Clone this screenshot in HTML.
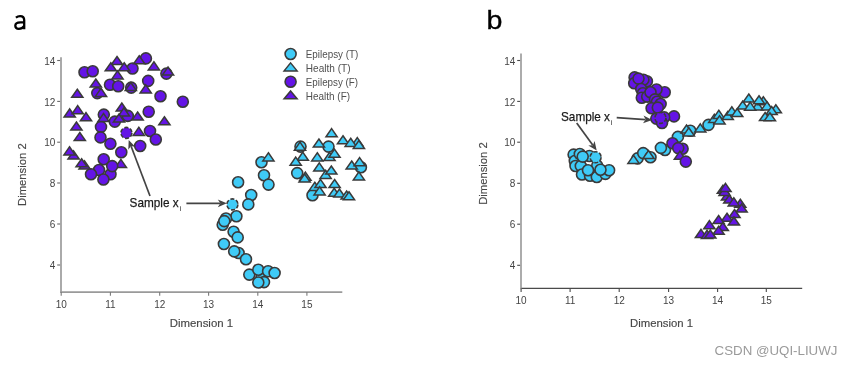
<!DOCTYPE html>
<html><head><meta charset="utf-8"><style>
html,body{margin:0;padding:0;background:#fff;}
svg{display:block;will-change:transform;}
text{font-family:"Liberation Sans",sans-serif;}
.lab{font-size:26px;fill:#000;stroke:#000;stroke-width:0.35px;}
.tk{font-size:10px;fill:#444;}
.dim{font-size:11.5px;fill:#474747;stroke:#474747;stroke-width:0.15px;}
.leg{font-size:10.4px;fill:#505050;}
.smp{font-size:13.5px;fill:#1a1a1a;stroke:#1a1a1a;stroke-width:0.25px;}
.sub{font-size:7px;fill:#222;}
.wm{font-size:13.3px;fill:#9a9a9a;}
</style></head><body>
<svg width="852" height="367" viewBox="0 0 852 367">
<rect width="852" height="367" fill="#fff"/>
<g fill="none" stroke="#000" stroke-width="2.3"><path d="M15.9 17.6C17.2 16.6 18.6 16.1 20.1 16.1C22.9 16.1 24.2 17.5 24.2 20.3V29.2"/><path d="M24.2 22.4H20.4C16.9 22.4 15.3 23.8 15.3 25.8C15.3 27.7 16.7 28.8 18.8 28.8C21.0 28.8 23.0 27.8 24.2 26.0"/></g>
<text transform="translate(486.4 29.2) scale(1.1 1)" class="lab">b</text>
<line x1="61.0" y1="57.2" x2="61.0" y2="292.8" stroke="#a6a6a6" stroke-width="1.9"/><line x1="57.2" y1="60.5" x2="60.1" y2="60.5" stroke="#6a6a6a" stroke-width="1.1"/><text x="55.3" y="64.6" text-anchor="end" class="tk">14</text><line x1="57.2" y1="101.4" x2="60.1" y2="101.4" stroke="#6a6a6a" stroke-width="1.1"/><text x="55.3" y="105.5" text-anchor="end" class="tk">12</text><line x1="57.2" y1="142.2" x2="60.1" y2="142.2" stroke="#6a6a6a" stroke-width="1.1"/><text x="55.3" y="146.29999999999998" text-anchor="end" class="tk">10</text><line x1="57.2" y1="183.0" x2="60.1" y2="183.0" stroke="#6a6a6a" stroke-width="1.1"/><text x="55.3" y="187.1" text-anchor="end" class="tk">8</text><line x1="57.2" y1="224.0" x2="60.1" y2="224.0" stroke="#6a6a6a" stroke-width="1.1"/><text x="55.3" y="228.1" text-anchor="end" class="tk">6</text><line x1="57.2" y1="265" x2="60.1" y2="265" stroke="#6a6a6a" stroke-width="1.1"/><text x="55.3" y="269.1" text-anchor="end" class="tk">4</text>
<line x1="60.2" y1="292.1" x2="342.3" y2="292.1" stroke="#9a9a9a" stroke-width="1.7"/><line x1="61.2" y1="292.1" x2="61.2" y2="295.70000000000005" stroke="#7a7a7a" stroke-width="1.1"/><text x="61.2" y="307.8" text-anchor="middle" class="tk">10</text><line x1="110.4" y1="292.1" x2="110.4" y2="295.70000000000005" stroke="#7a7a7a" stroke-width="1.1"/><text x="110.4" y="307.8" text-anchor="middle" class="tk">11</text><line x1="159.7" y1="292.1" x2="159.7" y2="295.70000000000005" stroke="#7a7a7a" stroke-width="1.1"/><text x="159.7" y="307.8" text-anchor="middle" class="tk">12</text><line x1="208.6" y1="292.1" x2="208.6" y2="295.70000000000005" stroke="#7a7a7a" stroke-width="1.1"/><text x="208.6" y="307.8" text-anchor="middle" class="tk">13</text><line x1="257.8" y1="292.1" x2="257.8" y2="295.70000000000005" stroke="#7a7a7a" stroke-width="1.1"/><text x="257.8" y="307.8" text-anchor="middle" class="tk">14</text><line x1="306.9" y1="292.1" x2="306.9" y2="295.70000000000005" stroke="#7a7a7a" stroke-width="1.1"/><text x="306.9" y="307.8" text-anchor="middle" class="tk">15</text>
<line x1="521.0" y1="53.5" x2="521.0" y2="289.2" stroke="#a8a8a8" stroke-width="1.9"/><line x1="517.2" y1="60.5" x2="520.1" y2="60.5" stroke="#4a4a4a" stroke-width="1.1"/><text x="515.4" y="64.6" text-anchor="end" class="tk">14</text><line x1="517.2" y1="101.4" x2="520.1" y2="101.4" stroke="#4a4a4a" stroke-width="1.1"/><text x="515.4" y="105.5" text-anchor="end" class="tk">12</text><line x1="517.2" y1="142.2" x2="520.1" y2="142.2" stroke="#4a4a4a" stroke-width="1.1"/><text x="515.4" y="146.29999999999998" text-anchor="end" class="tk">10</text><line x1="517.2" y1="183.3" x2="520.1" y2="183.3" stroke="#4a4a4a" stroke-width="1.1"/><text x="515.4" y="187.4" text-anchor="end" class="tk">8</text><line x1="517.2" y1="224.2" x2="520.1" y2="224.2" stroke="#4a4a4a" stroke-width="1.1"/><text x="515.4" y="228.29999999999998" text-anchor="end" class="tk">6</text><line x1="517.2" y1="265.3" x2="520.1" y2="265.3" stroke="#4a4a4a" stroke-width="1.1"/><text x="515.4" y="269.40000000000003" text-anchor="end" class="tk">4</text>
<line x1="521.5" y1="288.4" x2="802.2" y2="288.4" stroke="#4a4a4a" stroke-width="1.3"/><line x1="521.1" y1="288.4" x2="521.1" y2="292.0" stroke="#4a4a4a" stroke-width="1.1"/><text x="521.1" y="304.3" text-anchor="middle" class="tk">10</text><line x1="570.1" y1="288.4" x2="570.1" y2="292.0" stroke="#4a4a4a" stroke-width="1.1"/><text x="570.1" y="304.3" text-anchor="middle" class="tk">11</text><line x1="619.2" y1="288.4" x2="619.2" y2="292.0" stroke="#4a4a4a" stroke-width="1.1"/><text x="619.2" y="304.3" text-anchor="middle" class="tk">12</text><line x1="668.6" y1="288.4" x2="668.6" y2="292.0" stroke="#4a4a4a" stroke-width="1.1"/><text x="668.6" y="304.3" text-anchor="middle" class="tk">13</text><line x1="717.6" y1="288.4" x2="717.6" y2="292.0" stroke="#4a4a4a" stroke-width="1.1"/><text x="717.6" y="304.3" text-anchor="middle" class="tk">14</text><line x1="766.3" y1="288.4" x2="766.3" y2="292.0" stroke="#4a4a4a" stroke-width="1.1"/><text x="766.3" y="304.3" text-anchor="middle" class="tk">15</text>
<text x="169.7" y="327.1" class="dim" textLength="63.4" lengthAdjust="spacingAndGlyphs">Dimension 1</text>
<text x="630" y="326.8" class="dim" textLength="63" lengthAdjust="spacingAndGlyphs">Dimension 1</text>
<text transform="translate(26.4 206) rotate(-90)" class="dim" textLength="62.7" lengthAdjust="spacingAndGlyphs">Dimension 2</text>
<text transform="translate(486.7 204.8) rotate(-90)" class="dim" textLength="62.5" lengthAdjust="spacingAndGlyphs">Dimension 2</text>
<circle cx="290.6" cy="54.0" r="5.5" fill="#3fcbf7" stroke="#3a3a3a" stroke-width="1.6"/>
<path d="M290.6 62.9L297.1 70.9L284.1 70.9Z" fill="#3fcbf7" stroke="#3a3a3a" stroke-width="1.5"/>
<circle cx="290.6" cy="81.8" r="5.5" fill="#6414e6" stroke="#3a3a3a" stroke-width="1.6"/>
<path d="M290.6 90.9L297.1 98.7L284.1 98.7Z" fill="#6414e6" stroke="#3a3a3a" stroke-width="1.5"/>
<text x="305.8" y="58.1" class="leg" textLength="52.5" lengthAdjust="spacingAndGlyphs">Epilepsy (T)</text>
<text x="305.8" y="71.9" class="leg" textLength="44.8" lengthAdjust="spacingAndGlyphs">Health (T)</text>
<text x="305.8" y="85.7" class="leg" textLength="52.3" lengthAdjust="spacingAndGlyphs">Epilepsy (F)</text>
<text x="305.8" y="99.5" class="leg" textLength="44.3" lengthAdjust="spacingAndGlyphs">Health (F)</text>
<circle cx="238.1" cy="182.3" r="5.5" fill="#3fcbf7" stroke="#3a3a3a" stroke-width="1.6"/>
<circle cx="261.5" cy="162.2" r="5.5" fill="#3fcbf7" stroke="#3a3a3a" stroke-width="1.6"/>
<circle cx="264" cy="175.2" r="5.5" fill="#3fcbf7" stroke="#3a3a3a" stroke-width="1.6"/>
<circle cx="268.5" cy="184.6" r="5.5" fill="#3fcbf7" stroke="#3a3a3a" stroke-width="1.6"/>
<circle cx="251.2" cy="195" r="5.5" fill="#3fcbf7" stroke="#3a3a3a" stroke-width="1.6"/>
<circle cx="248.3" cy="204.4" r="5.5" fill="#3fcbf7" stroke="#3a3a3a" stroke-width="1.6"/>
<circle cx="236.4" cy="216.2" r="5.5" fill="#3fcbf7" stroke="#3a3a3a" stroke-width="1.6"/>
<circle cx="226" cy="218.5" r="5.5" fill="#3fcbf7" stroke="#3a3a3a" stroke-width="1.6"/>
<circle cx="222.7" cy="224.7" r="5.5" fill="#3fcbf7" stroke="#3a3a3a" stroke-width="1.6"/>
<circle cx="224.3" cy="221.1" r="5.5" fill="#3fcbf7" stroke="#3a3a3a" stroke-width="1.6"/>
<circle cx="233.6" cy="231.7" r="5.5" fill="#3fcbf7" stroke="#3a3a3a" stroke-width="1.6"/>
<circle cx="237.7" cy="237.4" r="5.5" fill="#3fcbf7" stroke="#3a3a3a" stroke-width="1.6"/>
<circle cx="223.9" cy="244" r="5.5" fill="#3fcbf7" stroke="#3a3a3a" stroke-width="1.6"/>
<circle cx="238.6" cy="253" r="5.5" fill="#3fcbf7" stroke="#3a3a3a" stroke-width="1.6"/>
<circle cx="234.2" cy="251.4" r="5.5" fill="#3fcbf7" stroke="#3a3a3a" stroke-width="1.6"/>
<circle cx="246" cy="259.2" r="5.5" fill="#3fcbf7" stroke="#3a3a3a" stroke-width="1.6"/>
<circle cx="261.6" cy="276.7" r="5.5" fill="#3fcbf7" stroke="#3a3a3a" stroke-width="1.6"/>
<circle cx="264" cy="282.1" r="5.5" fill="#3fcbf7" stroke="#3a3a3a" stroke-width="1.6"/>
<circle cx="249.3" cy="274.6" r="5.5" fill="#3fcbf7" stroke="#3a3a3a" stroke-width="1.6"/>
<circle cx="258.3" cy="269.7" r="5.5" fill="#3fcbf7" stroke="#3a3a3a" stroke-width="1.6"/>
<circle cx="268.1" cy="271.3" r="5.5" fill="#3fcbf7" stroke="#3a3a3a" stroke-width="1.6"/>
<circle cx="274.6" cy="273" r="5.5" fill="#3fcbf7" stroke="#3a3a3a" stroke-width="1.6"/>
<circle cx="258.3" cy="282.5" r="5.5" fill="#3fcbf7" stroke="#3a3a3a" stroke-width="1.6"/>
<circle cx="300.5" cy="146.6" r="5.5" fill="#3fcbf7" stroke="#3a3a3a" stroke-width="1.6"/>
<circle cx="328.5" cy="146.6" r="5.5" fill="#3fcbf7" stroke="#3a3a3a" stroke-width="1.6"/>
<circle cx="297.2" cy="173.1" r="5.5" fill="#3fcbf7" stroke="#3a3a3a" stroke-width="1.6"/>
<circle cx="312.5" cy="195.2" r="5.5" fill="#3fcbf7" stroke="#3a3a3a" stroke-width="1.6"/>
<circle cx="360.9" cy="167.3" r="5.5" fill="#3fcbf7" stroke="#3a3a3a" stroke-width="1.6"/>
<path d="M268.4 152.8L274.0 160.9L262.8 160.9Z" fill="#3fcbf7" stroke="#3a3a3a" stroke-width="1.5" stroke-linejoin="miter"/>
<path d="M300.0 142.1L305.6 150.2L294.4 150.2Z" fill="#3fcbf7" stroke="#3a3a3a" stroke-width="1.5" stroke-linejoin="miter"/>
<path d="M331.6 128.6L337.2 136.7L326.0 136.7Z" fill="#3fcbf7" stroke="#3a3a3a" stroke-width="1.5" stroke-linejoin="miter"/>
<path d="M318.9 139.0L324.5 147.1L313.3 147.1Z" fill="#3fcbf7" stroke="#3a3a3a" stroke-width="1.5" stroke-linejoin="miter"/>
<path d="M343.0 135.7L348.6 143.8L337.4 143.8Z" fill="#3fcbf7" stroke="#3a3a3a" stroke-width="1.5" stroke-linejoin="miter"/>
<path d="M357.3 137.6L362.9 145.7L351.7 145.7Z" fill="#3fcbf7" stroke="#3a3a3a" stroke-width="1.5" stroke-linejoin="miter"/>
<path d="M350.7 138.3L356.3 146.4L345.1 146.4Z" fill="#3fcbf7" stroke="#3a3a3a" stroke-width="1.5" stroke-linejoin="miter"/>
<path d="M358.9 140.5L364.5 148.6L353.3 148.6Z" fill="#3fcbf7" stroke="#3a3a3a" stroke-width="1.5" stroke-linejoin="miter"/>
<path d="M329.5 152.4L335.1 160.5L323.9 160.5Z" fill="#3fcbf7" stroke="#3a3a3a" stroke-width="1.5" stroke-linejoin="miter"/>
<path d="M334.5 149.1L340.1 157.2L328.9 157.2Z" fill="#3fcbf7" stroke="#3a3a3a" stroke-width="1.5" stroke-linejoin="miter"/>
<path d="M302.8 152.1L308.4 160.2L297.2 160.2Z" fill="#3fcbf7" stroke="#3a3a3a" stroke-width="1.5" stroke-linejoin="miter"/>
<path d="M295.7 157.1L301.3 165.2L290.1 165.2Z" fill="#3fcbf7" stroke="#3a3a3a" stroke-width="1.5" stroke-linejoin="miter"/>
<path d="M317.3 152.8L322.9 160.9L311.7 160.9Z" fill="#3fcbf7" stroke="#3a3a3a" stroke-width="1.5" stroke-linejoin="miter"/>
<path d="M319.3 162.9L324.9 171.0L313.7 171.0Z" fill="#3fcbf7" stroke="#3a3a3a" stroke-width="1.5" stroke-linejoin="miter"/>
<path d="M325.6 170.3L331.2 178.4L320.0 178.4Z" fill="#3fcbf7" stroke="#3a3a3a" stroke-width="1.5" stroke-linejoin="miter"/>
<path d="M331.3 166.0L336.9 174.1L325.7 174.1Z" fill="#3fcbf7" stroke="#3a3a3a" stroke-width="1.5" stroke-linejoin="miter"/>
<path d="M305.4 172.1L311.0 180.2L299.8 180.2Z" fill="#3fcbf7" stroke="#3a3a3a" stroke-width="1.5" stroke-linejoin="miter"/>
<path d="M304.6 174.0L310.2 182.1L299.0 182.1Z" fill="#3fcbf7" stroke="#3a3a3a" stroke-width="1.5" stroke-linejoin="miter"/>
<path d="M314.8 182.3L320.4 190.4L309.2 190.4Z" fill="#3fcbf7" stroke="#3a3a3a" stroke-width="1.5" stroke-linejoin="miter"/>
<path d="M320.5 179.4L326.1 187.5L314.9 187.5Z" fill="#3fcbf7" stroke="#3a3a3a" stroke-width="1.5" stroke-linejoin="miter"/>
<path d="M319.6 186.8L325.2 194.9L314.0 194.9Z" fill="#3fcbf7" stroke="#3a3a3a" stroke-width="1.5" stroke-linejoin="miter"/>
<path d="M334.6 179.5L340.2 187.6L329.0 187.6Z" fill="#3fcbf7" stroke="#3a3a3a" stroke-width="1.5" stroke-linejoin="miter"/>
<path d="M334.2 188.2L339.8 196.3L328.6 196.3Z" fill="#3fcbf7" stroke="#3a3a3a" stroke-width="1.5" stroke-linejoin="miter"/>
<path d="M339.4 189.0L345.0 197.1L333.8 197.1Z" fill="#3fcbf7" stroke="#3a3a3a" stroke-width="1.5" stroke-linejoin="miter"/>
<path d="M346.6 191.0L352.2 199.1L341.0 199.1Z" fill="#3fcbf7" stroke="#3a3a3a" stroke-width="1.5" stroke-linejoin="miter"/>
<path d="M349.0 191.7L354.6 199.8L343.4 199.8Z" fill="#3fcbf7" stroke="#3a3a3a" stroke-width="1.5" stroke-linejoin="miter"/>
<path d="M351.7 161.0L357.3 169.1L346.1 169.1Z" fill="#3fcbf7" stroke="#3a3a3a" stroke-width="1.5" stroke-linejoin="miter"/>
<path d="M359.6 157.6L365.2 165.7L354.0 165.7Z" fill="#3fcbf7" stroke="#3a3a3a" stroke-width="1.5" stroke-linejoin="miter"/>
<path d="M358.9 171.9L364.5 180.0L353.3 180.0Z" fill="#3fcbf7" stroke="#3a3a3a" stroke-width="1.5" stroke-linejoin="miter"/>
<circle cx="232.4" cy="204.4" r="5.5" fill="#3fcbf7" stroke="#3a3a3a" stroke-width="1.6" stroke-dasharray="4 1.8"/>
<circle cx="84.5" cy="72.3" r="5.5" fill="#6414e6" stroke="#3a3a3a" stroke-width="1.6"/>
<circle cx="92.7" cy="71.2" r="5.5" fill="#6414e6" stroke="#3a3a3a" stroke-width="1.6"/>
<circle cx="97.3" cy="93.1" r="5.5" fill="#6414e6" stroke="#3a3a3a" stroke-width="1.6"/>
<circle cx="110" cy="84.7" r="5.5" fill="#6414e6" stroke="#3a3a3a" stroke-width="1.6"/>
<circle cx="118.2" cy="86.2" r="5.5" fill="#6414e6" stroke="#3a3a3a" stroke-width="1.6"/>
<circle cx="131.2" cy="87.6" r="5.5" fill="#6414e6" stroke="#3a3a3a" stroke-width="1.6"/>
<circle cx="132.5" cy="68.5" r="5.5" fill="#6414e6" stroke="#3a3a3a" stroke-width="1.6"/>
<circle cx="145.9" cy="58.4" r="5.5" fill="#6414e6" stroke="#3a3a3a" stroke-width="1.6"/>
<circle cx="148.2" cy="80.9" r="5.5" fill="#6414e6" stroke="#3a3a3a" stroke-width="1.6"/>
<circle cx="166.4" cy="73.6" r="5.5" fill="#6414e6" stroke="#3a3a3a" stroke-width="1.6"/>
<circle cx="160.5" cy="96.3" r="5.5" fill="#6414e6" stroke="#3a3a3a" stroke-width="1.6"/>
<circle cx="182.8" cy="101.7" r="5.5" fill="#6414e6" stroke="#3a3a3a" stroke-width="1.6"/>
<circle cx="148.7" cy="111.7" r="5.5" fill="#6414e6" stroke="#3a3a3a" stroke-width="1.6"/>
<circle cx="103.8" cy="114.6" r="5.5" fill="#6414e6" stroke="#3a3a3a" stroke-width="1.6"/>
<circle cx="101" cy="126.9" r="5.5" fill="#6414e6" stroke="#3a3a3a" stroke-width="1.6"/>
<circle cx="100.5" cy="137.4" r="5.5" fill="#6414e6" stroke="#3a3a3a" stroke-width="1.6"/>
<circle cx="110.4" cy="143.8" r="5.5" fill="#6414e6" stroke="#3a3a3a" stroke-width="1.6"/>
<circle cx="121.3" cy="152.2" r="5.5" fill="#6414e6" stroke="#3a3a3a" stroke-width="1.6"/>
<circle cx="114.8" cy="121.6" r="5.5" fill="#6414e6" stroke="#3a3a3a" stroke-width="1.6"/>
<circle cx="127.8" cy="115.9" r="5.5" fill="#6414e6" stroke="#3a3a3a" stroke-width="1.6"/>
<circle cx="150" cy="131" r="5.5" fill="#6414e6" stroke="#3a3a3a" stroke-width="1.6"/>
<circle cx="155.8" cy="139.5" r="5.5" fill="#6414e6" stroke="#3a3a3a" stroke-width="1.6"/>
<circle cx="140.2" cy="146" r="5.5" fill="#6414e6" stroke="#3a3a3a" stroke-width="1.6"/>
<circle cx="103.7" cy="159.2" r="5.5" fill="#6414e6" stroke="#3a3a3a" stroke-width="1.6"/>
<circle cx="110.5" cy="174.2" r="5.5" fill="#6414e6" stroke="#3a3a3a" stroke-width="1.6"/>
<circle cx="99" cy="170" r="5.5" fill="#6414e6" stroke="#3a3a3a" stroke-width="1.6"/>
<circle cx="91" cy="174.2" r="5.5" fill="#6414e6" stroke="#3a3a3a" stroke-width="1.6"/>
<circle cx="103.4" cy="179.5" r="5.5" fill="#6414e6" stroke="#3a3a3a" stroke-width="1.6"/>
<path d="M117.0 56.5L122.6 64.6L111.4 64.6Z" fill="#6414e6" stroke="#3a3a3a" stroke-width="1.5" stroke-linejoin="miter"/>
<path d="M110.8 62.7L116.4 70.8L105.2 70.8Z" fill="#6414e6" stroke="#3a3a3a" stroke-width="1.5" stroke-linejoin="miter"/>
<path d="M124.2 62.7L129.8 70.8L118.6 70.8Z" fill="#6414e6" stroke="#3a3a3a" stroke-width="1.5" stroke-linejoin="miter"/>
<path d="M117.5 70.8L123.1 78.9L111.9 78.9Z" fill="#6414e6" stroke="#3a3a3a" stroke-width="1.5" stroke-linejoin="miter"/>
<path d="M139.2 55.7L144.8 63.8L133.6 63.8Z" fill="#6414e6" stroke="#3a3a3a" stroke-width="1.5" stroke-linejoin="miter"/>
<path d="M153.9 61.8L159.5 69.9L148.3 69.9Z" fill="#6414e6" stroke="#3a3a3a" stroke-width="1.5" stroke-linejoin="miter"/>
<path d="M95.8 79.0L101.4 87.1L90.2 87.1Z" fill="#6414e6" stroke="#3a3a3a" stroke-width="1.5" stroke-linejoin="miter"/>
<path d="M101.0 88.3L106.6 96.4L95.4 96.4Z" fill="#6414e6" stroke="#3a3a3a" stroke-width="1.5" stroke-linejoin="miter"/>
<path d="M77.3 89.2L82.9 97.3L71.7 97.3Z" fill="#6414e6" stroke="#3a3a3a" stroke-width="1.5" stroke-linejoin="miter"/>
<path d="M130.8 82.5L136.4 90.6L125.2 90.6Z" fill="#6414e6" stroke="#3a3a3a" stroke-width="1.5" stroke-linejoin="miter"/>
<path d="M168.0 67.0L173.6 75.1L162.4 75.1Z" fill="#6414e6" stroke="#3a3a3a" stroke-width="1.5" stroke-linejoin="miter"/>
<path d="M145.7 84.8L151.3 92.9L140.1 92.9Z" fill="#6414e6" stroke="#3a3a3a" stroke-width="1.5" stroke-linejoin="miter"/>
<path d="M69.7 108.9L75.3 117.0L64.1 117.0Z" fill="#6414e6" stroke="#3a3a3a" stroke-width="1.5" stroke-linejoin="miter"/>
<path d="M77.7 105.6L83.3 113.7L72.1 113.7Z" fill="#6414e6" stroke="#3a3a3a" stroke-width="1.5" stroke-linejoin="miter"/>
<path d="M86.0 112.6L91.6 120.7L80.4 120.7Z" fill="#6414e6" stroke="#3a3a3a" stroke-width="1.5" stroke-linejoin="miter"/>
<path d="M76.4 122.0L82.0 130.1L70.8 130.1Z" fill="#6414e6" stroke="#3a3a3a" stroke-width="1.5" stroke-linejoin="miter"/>
<path d="M79.8 132.5L85.4 140.6L74.2 140.6Z" fill="#6414e6" stroke="#3a3a3a" stroke-width="1.5" stroke-linejoin="miter"/>
<path d="M103.5 113.5L109.1 121.6L97.9 121.6Z" fill="#6414e6" stroke="#3a3a3a" stroke-width="1.5" stroke-linejoin="miter"/>
<path d="M121.8 103.0L127.4 111.1L116.2 111.1Z" fill="#6414e6" stroke="#3a3a3a" stroke-width="1.5" stroke-linejoin="miter"/>
<path d="M123.9 107.9L129.5 116.0L118.3 116.0Z" fill="#6414e6" stroke="#3a3a3a" stroke-width="1.5" stroke-linejoin="miter"/>
<path d="M119.0 114.0L124.6 122.1L113.4 122.1Z" fill="#6414e6" stroke="#3a3a3a" stroke-width="1.5" stroke-linejoin="miter"/>
<path d="M137.6 112.0L143.2 120.1L132.0 120.1Z" fill="#6414e6" stroke="#3a3a3a" stroke-width="1.5" stroke-linejoin="miter"/>
<path d="M164.4 116.7L170.0 124.8L158.8 124.8Z" fill="#6414e6" stroke="#3a3a3a" stroke-width="1.5" stroke-linejoin="miter"/>
<path d="M138.8 127.3L144.4 135.4L133.2 135.4Z" fill="#6414e6" stroke="#3a3a3a" stroke-width="1.5" stroke-linejoin="miter"/>
<path d="M73.6 150.9L79.2 159.0L68.0 159.0Z" fill="#6414e6" stroke="#3a3a3a" stroke-width="1.5" stroke-linejoin="miter"/>
<path d="M69.5 146.8L75.1 154.9L63.9 154.9Z" fill="#6414e6" stroke="#3a3a3a" stroke-width="1.5" stroke-linejoin="miter"/>
<path d="M84.6 160.9L90.2 169.0L79.0 169.0Z" fill="#6414e6" stroke="#3a3a3a" stroke-width="1.5" stroke-linejoin="miter"/>
<path d="M81.6 158.7L87.2 166.8L76.0 166.8Z" fill="#6414e6" stroke="#3a3a3a" stroke-width="1.5" stroke-linejoin="miter"/>
<path d="M120.9 159.4L126.5 167.5L115.3 167.5Z" fill="#6414e6" stroke="#3a3a3a" stroke-width="1.5" stroke-linejoin="miter"/>
<circle cx="112.2" cy="166.1" r="5.5" fill="#6414e6" stroke="#3a3a3a" stroke-width="1.6"/>
<circle cx="126.4" cy="132.9" r="5.5" fill="#6414e6" stroke="#3a3a3a" stroke-width="1.6" stroke-dasharray="4 1.8"/>
<circle cx="573.6" cy="154.6" r="5.5" fill="#3fcbf7" stroke="#3a3a3a" stroke-width="1.6"/>
<circle cx="574.8" cy="161" r="5.5" fill="#3fcbf7" stroke="#3a3a3a" stroke-width="1.6"/>
<circle cx="575.5" cy="166" r="5.5" fill="#3fcbf7" stroke="#3a3a3a" stroke-width="1.6"/>
<circle cx="579.8" cy="154" r="5.5" fill="#3fcbf7" stroke="#3a3a3a" stroke-width="1.6"/>
<circle cx="589.4" cy="156" r="5.5" fill="#3fcbf7" stroke="#3a3a3a" stroke-width="1.6"/>
<circle cx="580.8" cy="166" r="5.5" fill="#3fcbf7" stroke="#3a3a3a" stroke-width="1.6"/>
<circle cx="582" cy="174.5" r="5.5" fill="#3fcbf7" stroke="#3a3a3a" stroke-width="1.6"/>
<circle cx="590" cy="175.8" r="5.5" fill="#3fcbf7" stroke="#3a3a3a" stroke-width="1.6"/>
<circle cx="596.8" cy="177" r="5.5" fill="#3fcbf7" stroke="#3a3a3a" stroke-width="1.6"/>
<circle cx="597.2" cy="165.8" r="5.5" fill="#3fcbf7" stroke="#3a3a3a" stroke-width="1.6"/>
<circle cx="582.7" cy="156.6" r="5.5" fill="#3fcbf7" stroke="#3a3a3a" stroke-width="1.6"/>
<circle cx="588" cy="170.2" r="5.5" fill="#3fcbf7" stroke="#3a3a3a" stroke-width="1.6"/>
<circle cx="605.4" cy="173.9" r="5.5" fill="#3fcbf7" stroke="#3a3a3a" stroke-width="1.6"/>
<circle cx="609.1" cy="170.3" r="5.5" fill="#3fcbf7" stroke="#3a3a3a" stroke-width="1.6"/>
<circle cx="600.5" cy="169.8" r="5.5" fill="#3fcbf7" stroke="#3a3a3a" stroke-width="1.6"/>
<circle cx="637.5" cy="158.4" r="5.5" fill="#3fcbf7" stroke="#3a3a3a" stroke-width="1.6"/>
<circle cx="643.2" cy="153.1" r="5.5" fill="#3fcbf7" stroke="#3a3a3a" stroke-width="1.6"/>
<path d="M633.5 155.3L639.1 163.4L627.9 163.4Z" fill="#3fcbf7" stroke="#3a3a3a" stroke-width="1.5" stroke-linejoin="miter"/>
<circle cx="650.5" cy="157.2" r="5.5" fill="#3fcbf7" stroke="#3a3a3a" stroke-width="1.6"/>
<path d="M648.5 150.5L654.1 158.6L642.9 158.6Z" fill="#3fcbf7" stroke="#3a3a3a" stroke-width="1.5" stroke-linejoin="miter"/>
<circle cx="665" cy="150" r="5.5" fill="#3fcbf7" stroke="#3a3a3a" stroke-width="1.6"/>
<circle cx="660.9" cy="147.9" r="5.5" fill="#3fcbf7" stroke="#3a3a3a" stroke-width="1.6"/>
<circle cx="677.9" cy="136.9" r="5.5" fill="#3fcbf7" stroke="#3a3a3a" stroke-width="1.6"/>
<circle cx="690.3" cy="130.7" r="5.5" fill="#3fcbf7" stroke="#3a3a3a" stroke-width="1.6"/>
<path d="M686.5 125.0L692.1 133.1L680.9 133.1Z" fill="#3fcbf7" stroke="#3a3a3a" stroke-width="1.5" stroke-linejoin="miter"/>
<path d="M688.8 127.8L694.4 135.9L683.2 135.9Z" fill="#3fcbf7" stroke="#3a3a3a" stroke-width="1.5" stroke-linejoin="miter"/>
<path d="M700.3 123.9L705.9 132.0L694.7 132.0Z" fill="#3fcbf7" stroke="#3a3a3a" stroke-width="1.5" stroke-linejoin="miter"/>
<circle cx="708.5" cy="124.9" r="5.5" fill="#3fcbf7" stroke="#3a3a3a" stroke-width="1.6"/>
<path d="M714.3 114.3L719.9 122.4L708.7 122.4Z" fill="#3fcbf7" stroke="#3a3a3a" stroke-width="1.5" stroke-linejoin="miter"/>
<path d="M718.8 110.3L724.4 118.4L713.2 118.4Z" fill="#3fcbf7" stroke="#3a3a3a" stroke-width="1.5" stroke-linejoin="miter"/>
<path d="M719.5 115.8L725.1 123.9L713.9 123.9Z" fill="#3fcbf7" stroke="#3a3a3a" stroke-width="1.5" stroke-linejoin="miter"/>
<path d="M727.7 111.5L733.3 119.6L722.1 119.6Z" fill="#3fcbf7" stroke="#3a3a3a" stroke-width="1.5" stroke-linejoin="miter"/>
<path d="M731.8 106.8L737.4 114.9L726.2 114.9Z" fill="#3fcbf7" stroke="#3a3a3a" stroke-width="1.5" stroke-linejoin="miter"/>
<path d="M737.2 108.5L742.8 116.6L731.6 116.6Z" fill="#3fcbf7" stroke="#3a3a3a" stroke-width="1.5" stroke-linejoin="miter"/>
<path d="M757.6 102.0L763.2 110.1L752.0 110.1Z" fill="#3fcbf7" stroke="#3a3a3a" stroke-width="1.5" stroke-linejoin="miter"/>
<path d="M742.7 101.0L748.3 109.1L737.1 109.1Z" fill="#3fcbf7" stroke="#3a3a3a" stroke-width="1.5" stroke-linejoin="miter"/>
<path d="M748.8 94.0L754.4 102.1L743.2 102.1Z" fill="#3fcbf7" stroke="#3a3a3a" stroke-width="1.5" stroke-linejoin="miter"/>
<path d="M750.2 102.1L755.8 110.2L744.6 110.2Z" fill="#3fcbf7" stroke="#3a3a3a" stroke-width="1.5" stroke-linejoin="miter"/>
<path d="M763.3 96.7L768.9 104.8L757.7 104.8Z" fill="#3fcbf7" stroke="#3a3a3a" stroke-width="1.5" stroke-linejoin="miter"/>
<path d="M759.0 95.7L764.6 103.8L753.4 103.8Z" fill="#3fcbf7" stroke="#3a3a3a" stroke-width="1.5" stroke-linejoin="miter"/>
<path d="M767.0 101.8L772.6 109.9L761.4 109.9Z" fill="#3fcbf7" stroke="#3a3a3a" stroke-width="1.5" stroke-linejoin="miter"/>
<path d="M775.8 104.7L781.4 112.8L770.2 112.8Z" fill="#3fcbf7" stroke="#3a3a3a" stroke-width="1.5" stroke-linejoin="miter"/>
<path d="M771.6 106.5L777.2 114.6L766.0 114.6Z" fill="#3fcbf7" stroke="#3a3a3a" stroke-width="1.5" stroke-linejoin="miter"/>
<path d="M765.1 112.5L770.7 120.6L759.5 120.6Z" fill="#3fcbf7" stroke="#3a3a3a" stroke-width="1.5" stroke-linejoin="miter"/>
<path d="M769.9 112.7L775.5 120.8L764.3 120.8Z" fill="#3fcbf7" stroke="#3a3a3a" stroke-width="1.5" stroke-linejoin="miter"/>
<circle cx="595.6" cy="157.2" r="5.5" fill="#3fcbf7" stroke="#3a3a3a" stroke-width="1.6" stroke-dasharray="4 1.8"/>
<circle cx="634.6" cy="77.4" r="5.5" fill="#6414e6" stroke="#3a3a3a" stroke-width="1.6"/>
<circle cx="634.2" cy="83.3" r="5.5" fill="#6414e6" stroke="#3a3a3a" stroke-width="1.6"/>
<circle cx="646.9" cy="81.2" r="5.5" fill="#6414e6" stroke="#3a3a3a" stroke-width="1.6"/>
<circle cx="643.4" cy="79.7" r="5.5" fill="#6414e6" stroke="#3a3a3a" stroke-width="1.6"/>
<circle cx="638.5" cy="78.6" r="5.5" fill="#6414e6" stroke="#3a3a3a" stroke-width="1.6"/>
<circle cx="641.2" cy="89" r="5.5" fill="#6414e6" stroke="#3a3a3a" stroke-width="1.6"/>
<circle cx="642.9" cy="93.3" r="5.5" fill="#6414e6" stroke="#3a3a3a" stroke-width="1.6"/>
<circle cx="641.8" cy="97.7" r="5.5" fill="#6414e6" stroke="#3a3a3a" stroke-width="1.6"/>
<circle cx="649.6" cy="96.2" r="5.5" fill="#6414e6" stroke="#3a3a3a" stroke-width="1.6"/>
<circle cx="647.2" cy="96.6" r="5.5" fill="#6414e6" stroke="#3a3a3a" stroke-width="1.6"/>
<circle cx="664.7" cy="92.2" r="5.5" fill="#6414e6" stroke="#3a3a3a" stroke-width="1.6"/>
<circle cx="656.5" cy="89.5" r="5.5" fill="#6414e6" stroke="#3a3a3a" stroke-width="1.6"/>
<circle cx="650.5" cy="92.2" r="5.5" fill="#6414e6" stroke="#3a3a3a" stroke-width="1.6"/>
<circle cx="655" cy="99.4" r="5.5" fill="#6414e6" stroke="#3a3a3a" stroke-width="1.6"/>
<circle cx="657" cy="101.8" r="5.5" fill="#6414e6" stroke="#3a3a3a" stroke-width="1.6"/>
<circle cx="651.6" cy="108.2" r="5.5" fill="#6414e6" stroke="#3a3a3a" stroke-width="1.6"/>
<circle cx="660.6" cy="104" r="5.5" fill="#6414e6" stroke="#3a3a3a" stroke-width="1.6"/>
<circle cx="657.8" cy="107.6" r="5.5" fill="#6414e6" stroke="#3a3a3a" stroke-width="1.6"/>
<circle cx="674" cy="116.4" r="5.5" fill="#6414e6" stroke="#3a3a3a" stroke-width="1.6"/>
<circle cx="664.2" cy="117.4" r="5.5" fill="#6414e6" stroke="#3a3a3a" stroke-width="1.6"/>
<circle cx="656.3" cy="118.6" r="5.5" fill="#6414e6" stroke="#3a3a3a" stroke-width="1.6"/>
<circle cx="662" cy="123" r="5.5" fill="#6414e6" stroke="#3a3a3a" stroke-width="1.6"/>
<circle cx="672.5" cy="143.2" r="5.5" fill="#6414e6" stroke="#3a3a3a" stroke-width="1.6"/>
<circle cx="682.6" cy="148.8" r="5.5" fill="#6414e6" stroke="#3a3a3a" stroke-width="1.6"/>
<circle cx="678.2" cy="148.1" r="5.5" fill="#6414e6" stroke="#3a3a3a" stroke-width="1.6"/>
<path d="M679.9 151.1L685.5 159.2L674.3 159.2Z" fill="#6414e6" stroke="#3a3a3a" stroke-width="1.5" stroke-linejoin="miter"/>
<circle cx="685.8" cy="161.6" r="5.5" fill="#6414e6" stroke="#3a3a3a" stroke-width="1.6"/>
<path d="M727.0 192.0L732.6 200.1L721.4 200.1Z" fill="#6414e6" stroke="#3a3a3a" stroke-width="1.5" stroke-linejoin="miter"/>
<path d="M722.9 185.2L728.5 193.3L717.3 193.3Z" fill="#6414e6" stroke="#3a3a3a" stroke-width="1.5" stroke-linejoin="miter"/>
<path d="M724.6 187.3L730.2 195.4L719.0 195.4Z" fill="#6414e6" stroke="#3a3a3a" stroke-width="1.5" stroke-linejoin="miter"/>
<path d="M725.5 183.4L731.1 191.5L719.9 191.5Z" fill="#6414e6" stroke="#3a3a3a" stroke-width="1.5" stroke-linejoin="miter"/>
<path d="M729.3 195.0L734.9 203.1L723.7 203.1Z" fill="#6414e6" stroke="#3a3a3a" stroke-width="1.5" stroke-linejoin="miter"/>
<path d="M740.3 199.2L745.9 207.3L734.7 207.3Z" fill="#6414e6" stroke="#3a3a3a" stroke-width="1.5" stroke-linejoin="miter"/>
<path d="M733.8 197.8L739.4 205.9L728.2 205.9Z" fill="#6414e6" stroke="#3a3a3a" stroke-width="1.5" stroke-linejoin="miter"/>
<path d="M741.6 204.0L747.2 212.1L736.0 212.1Z" fill="#6414e6" stroke="#3a3a3a" stroke-width="1.5" stroke-linejoin="miter"/>
<path d="M734.5 209.5L740.1 217.6L728.9 217.6Z" fill="#6414e6" stroke="#3a3a3a" stroke-width="1.5" stroke-linejoin="miter"/>
<path d="M727.0 213.2L732.6 221.3L721.4 221.3Z" fill="#6414e6" stroke="#3a3a3a" stroke-width="1.5" stroke-linejoin="miter"/>
<path d="M718.6 215.5L724.2 223.6L713.0 223.6Z" fill="#6414e6" stroke="#3a3a3a" stroke-width="1.5" stroke-linejoin="miter"/>
<path d="M733.9 217.0L739.5 225.1L728.3 225.1Z" fill="#6414e6" stroke="#3a3a3a" stroke-width="1.5" stroke-linejoin="miter"/>
<path d="M709.4 220.6L715.0 228.7L703.8 228.7Z" fill="#6414e6" stroke="#3a3a3a" stroke-width="1.5" stroke-linejoin="miter"/>
<path d="M722.8 222.5L728.4 230.6L717.2 230.6Z" fill="#6414e6" stroke="#3a3a3a" stroke-width="1.5" stroke-linejoin="miter"/>
<path d="M718.6 226.2L724.2 234.3L713.0 234.3Z" fill="#6414e6" stroke="#3a3a3a" stroke-width="1.5" stroke-linejoin="miter"/>
<path d="M701.0 229.4L706.6 237.5L695.4 237.5Z" fill="#6414e6" stroke="#3a3a3a" stroke-width="1.5" stroke-linejoin="miter"/>
<path d="M707.0 230.3L712.6 238.4L701.4 238.4Z" fill="#6414e6" stroke="#3a3a3a" stroke-width="1.5" stroke-linejoin="miter"/>
<path d="M710.3 230.0L715.9 238.1L704.7 238.1Z" fill="#6414e6" stroke="#3a3a3a" stroke-width="1.5" stroke-linejoin="miter"/>
<circle cx="660.4" cy="117.9" r="5.5" fill="#6414e6" stroke="#3a3a3a" stroke-width="1.6" stroke-dasharray="4 1.8"/>
<text x="129.6" y="207.2" class="smp" textLength="49" lengthAdjust="spacingAndGlyphs">Sample x</text><text x="179.8" y="210.5" class="sub">i</text>
<line x1="186.4" y1="203.3" x2="220.1" y2="203.3" stroke="#444" stroke-width="1.7"/><path d="M226.8 203.3L217.8 207.2L220.3 203.3L217.8 199.4Z" fill="#444"/>
<line x1="150.0" y1="196" x2="131.1" y2="146.3" stroke="#444" stroke-width="1.7"/><path d="M128.7 140.0L135.5 147.0L131.0 146.1L128.3 149.8Z" fill="#444"/>
<text x="561" y="121" class="smp" textLength="49" lengthAdjust="spacingAndGlyphs">Sample x</text><text x="610.8" y="125.2" class="sub">i</text>
<line x1="616.7" y1="117.7" x2="645.5" y2="119.6" stroke="#444" stroke-width="1.7"/><path d="M652.2 120.0L643.0 123.3L645.7 119.6L643.5 115.5Z" fill="#444"/>
<line x1="576.7" y1="122.9" x2="592.7" y2="145.0" stroke="#444" stroke-width="1.7"/><path d="M596.7 150.5L588.3 145.5L592.9 145.3L594.6 140.9Z" fill="#444"/>
<text x="714.6" y="354.6" class="wm" textLength="122.8" lengthAdjust="spacingAndGlyphs">CSDN @UQI-LIUWJ</text>
</svg>
</body></html>
